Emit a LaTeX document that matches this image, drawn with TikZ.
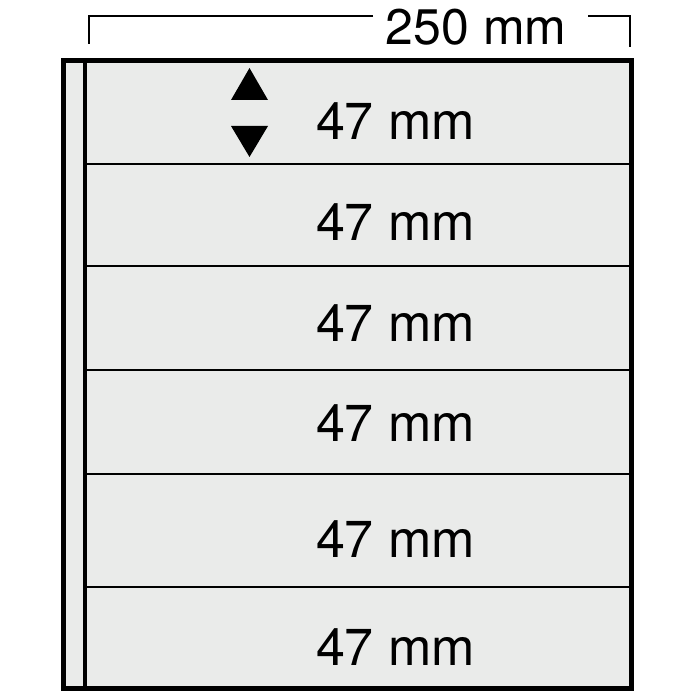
\documentclass[tikz,border=0pt]{standalone}
\usepackage{fontspec}
\setmainfont{TeX Gyre Heros}
\definecolor{sheet}{HTML}{EAEBEA}
\begin{document}
\begin{tikzpicture}[x=1pt,y=-1pt,
  lbl/.style={inner sep=0pt,font=\fontsize{52}{60}\selectfont},
  dimlbl/.style={inner sep=0pt,font=\fontsize{50}{58}\selectfont},
  frame/.style={line width=5pt},
  divider/.style={line width=2pt},
  dimline/.style={line width=2pt}]
\useasboundingbox (0,0) rectangle (700,700);
% sheet
\fill[sheet] (63.5,61) rectangle (631.5,688);
\draw[frame] (63.5,61) rectangle (631.5,688);
\draw[line width=4pt] (84.5,61) -- (84.5,688);
% dividers
\foreach \y in {164.5,266,370,473.5,587}
  \draw[divider] (86,\y) -- (630,\y);
% labels
\node[lbl] (r1) at (395.5,121.5) {47 mm};
\node[lbl] (r2) at (395.5,221.7) {47 mm};
\node[lbl] (r3) at (395.5,323.3) {47 mm};
\node[lbl] (r4) at (395.5,423.3) {47 mm};
\node[lbl] (r5) at (395.5,539) {47 mm};
\node[lbl] (r6) at (395.5,647.5) {47 mm};
% arrows
\fill (249.5,68) -- (268,100) -- (231,100) -- cycle;
\fill (231,126) -- (268,126) -- (249.5,157) -- cycle;
% dimension
\node[dimlbl] (dim) at (476,27.5) {250 mm};
\draw[dimline] (373,16.5) -- (88.5,16.5) -- (88.5,44);
\draw[dimline] (588,16.5) -- (630,16.5) -- (630,47);
\end{tikzpicture}
\end{document}
